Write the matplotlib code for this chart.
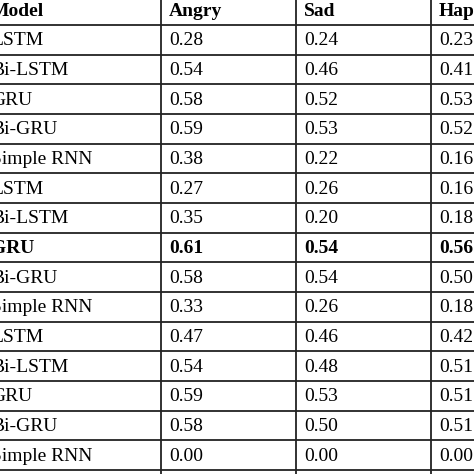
import matplotlib
matplotlib.use('Agg')
import matplotlib.pyplot as plt

headers = ['Model', 'Angry', 'Sad', 'Happy']
models = ['LSTM', 'Bi-LSTM', 'GRU', 'Bi-GRU', 'Simple RNN'] * 3
angry = ['0.28', '0.54', '0.58', '0.59', '0.38', '0.27', '0.35', '0.61', '0.58', '0.33',
         '0.47', '0.54', '0.59', '0.58', '0.00']
sad = ['0.24', '0.46', '0.52', '0.53', '0.22', '0.26', '0.20', '0.54', '0.54', '0.26',
       '0.46', '0.48', '0.53', '0.50', '0.00']
happy = ['0.23', '0.41', '0.53', '0.52', '0.16', '0.16', '0.18', '0.56', '0.50', '0.18',
         '0.42', '0.51', '0.51', '0.51', '0.00']
bold_row = 7

plt.rcParams['font.family'] = ['Liberation Serif', 'DejaVu Serif']
fig = plt.figure(figsize=(4.74, 4.74), dpi=100)
ax = fig.add_axes([0, 0, 1, 1])
ax.set_xlim(0, 474)
ax.set_ylim(474, 0)
ax.axis('off')

row_h = 29.65
top = -4.5
col_lines = [161, 296, 431]
text_x = [-9, 169, 304, 439]

for i in range(17):
    y = top + i * row_h
    ax.plot([-10, 484], [y, y], color='#222222', lw=1.3)
for x in col_lines:
    ax.plot([x, x], [-10, 484], color='#222222', lw=1.3)

# the source picture is a crop of a wider table, so texts run off the edges
for j, h in enumerate(headers):
    ax.text(text_x[j], top + row_h / 2 + 1, h, fontsize=14, fontweight='bold',
            va='center', ha='left', clip_on=True)

for i in range(len(models)):
    y = top + (i + 1.5) * row_h + 1
    w = 'bold' if i == bold_row else 'normal'
    row = [models[i], angry[i], sad[i], happy[i]]
    for j, v in enumerate(row):
        ax.text(text_x[j], y, v, fontsize=14, fontweight=w, va='center', ha='left',
                clip_on=True)

fig.savefig('out.png', dpi=100)
